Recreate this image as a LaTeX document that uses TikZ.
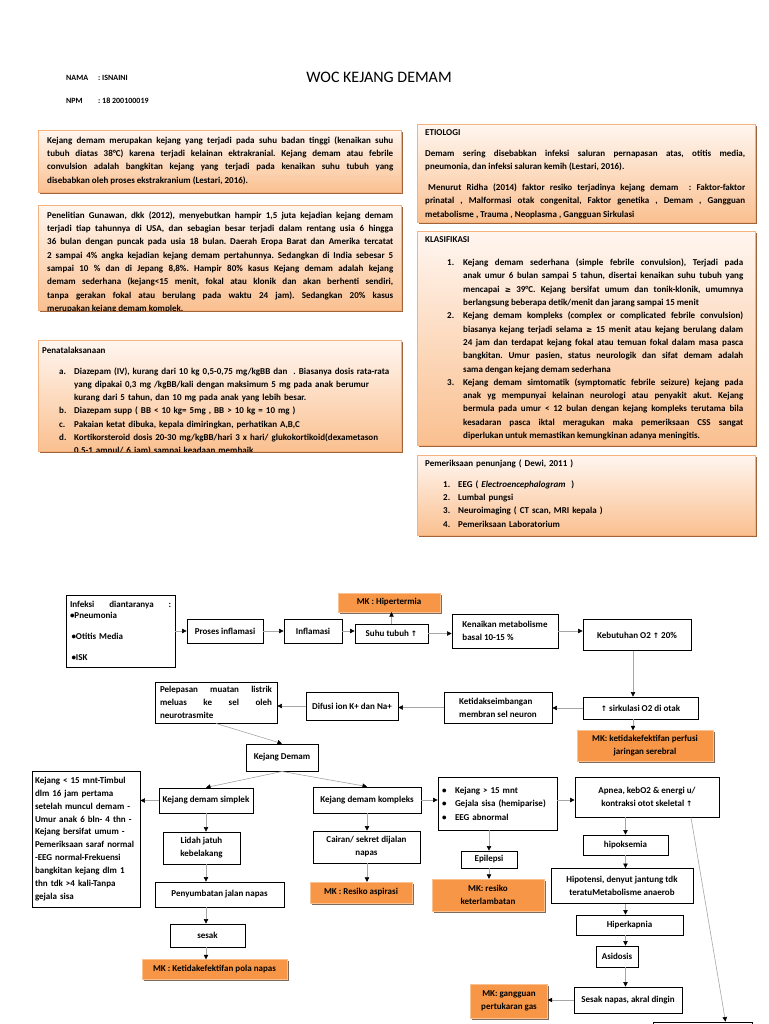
\documentclass[tikz,border=0pt]{standalone}
\usepackage{fontspec}
\setmainfont{Carlito}
\newfontfamily\symfont{DejaVu Sans}
\usetikzlibrary{arrows.meta, positioning, shadows}

\definecolor{mkorange}{HTML}{F79646}
\definecolor{mkshadow}{HTML}{7F6B5C}
\definecolor{peachtop}{HTML}{FFF6F0}
\definecolor{peachbottom}{HTML}{FAC090}
\definecolor{peachline}{HTML}{F6B27E}
\definecolor{peachshadow}{HTML}{A0643A}
\definecolor{linkgray}{HTML}{A6A6A6}

\tolerance=9999
\hbadness=10000
\frenchspacing
\newcommand{\txt}{\fontsize{9}{13.3}\selectfont\bfseries}
\newcommand{\numlbl}[2]{\noindent\llap{\makebox[#1][l]{#2}}}
\newcommand{\naik}{{\symfont\fontsize{7.5}{9}\selectfont ↑}}
\newcommand{\gesym}{{\symfont\fontsize{7.5}{9}\selectfont ≥}}

\tikzset{
    infobox/.style={rectangle, anchor=north west, draw=peachline, line width=0.5pt, top color=peachtop, bottom color=peachbottom, general shadow={fill=peachshadow, shadow xshift=1.6pt, shadow yshift=-1.6pt}, inner sep=0pt},
    infotext/.style={anchor=north west, inner sep=0pt, align=justify, font=\txt},
    box/.style={rectangle, draw=black, line width=0.9pt, fill=white, align=center, inner sep=2pt, font=\fontsize{9}{13}\selectfont\bfseries},
    mk/.style={rectangle, draw=mkorange!60!white, line width=0.4pt, fill=mkorange, general shadow={fill=mkshadow, shadow xshift=1.6pt, shadow yshift=-1.6pt}, align=center, inner sep=2pt, font=\fontsize{9}{13}\selectfont\bfseries},
    arrow/.style={draw=linkgray, line width=0.6pt, -{Triangle[length=4.5pt, width=4.5pt, color=black]}}
}

\begin{document}
\begin{tikzpicture}[x=1pt, y=-1pt]
    \fill[white] (0,0) rectangle (768,1024);
    \useasboundingbox (0,0) rectangle (768,1024);

    % Header
    \node[anchor=west, inner sep=0pt, font=\fontsize{8}{10}\selectfont\bfseries] (nama) at (66,78) {\makebox[32pt][l]{NAMA}: ISNAINI};
    \node[anchor=west, inner sep=0pt, font=\fontsize{8}{10}\selectfont\bfseries] (npm) at (66,101) {\makebox[32pt][l]{NPM}: 18 200100019};
    \node[font=\fontsize{16}{18}\selectfont] (judul) at (379,77) {WOC KEJANG DEMAM};

    % Left column: text boxes
    \node[infobox, minimum width=363pt, minimum height=62pt] (defbox) at (38,130) {};
    \node[infotext, text width=346pt] (deftext) at (47,136.5) {Kejang demam merupakan kejang yang terjadi pada suhu badan tinggi (kenaikan suhu\linebreak tubuh diatas 38°C) karena terjadi kelainan ektrakranial. Kejang demam atau febrile\linebreak convulsion adalah bangkitan kejang yang terjadi pada kenaikan suhu tubuh yang\linebreak disebabkan oleh proses ekstrakranium (Lestari, 2016).\par};

    \node[infobox, minimum width=363pt, minimum height=105pt] (epidbox) at (38,205) {};
    \begin{scope}
        \clip (epidbox.north west) rectangle (epidbox.south east);
        \node[infotext, text width=346pt] (epidtext) at (47,211.5) {Penelitian Gunawan, dkk (2012), menyebutkan hampir 1,5 juta kejadian kejang demam\linebreak terjadi tiap tahunnya di USA, dan sebagian besar terjadi dalam rentang usia 6 hingga\linebreak 36 bulan dengan puncak pada usia 18 bulan. Daerah Eropa Barat dan Amerika tercatat\linebreak 2 sampai 4\% angka kejadian kejang demam pertahunnya. Sedangkan di India sebesar 5\linebreak sampai 10 \% dan di Jepang 8,8\%. Hampir 80\% kasus Kejang demam adalah kejang\linebreak demam sederhana (kejang<15 menit, fokal atau klonik dan akan berhenti sendiri,\linebreak tanpa gerakan fokal atau berulang pada waktu 24 jam). Sedangkan 20\% kasus\linebreak merupakan kejang demam komplek.\par};
    \end{scope}

    \node[infobox, minimum width=363pt, minimum height=111pt] (penabox) at (38,340) {};
    \begin{scope}
        \clip (penabox.north west) rectangle (penabox.south east);
        \node[infotext, text width=357pt, align=left] (penatext) at (42,346.5) {Penatalaksanaan\par\vspace{7.7pt}
            \leftskip=32pt
            \numlbl{15pt}{a.}Diazepam (IV), kurang dari 10 kg 0,5-0,75 mg/kgBB dan\ \ . Biasanya dosis rata-rata\\ yang dipakai 0,3 mg /kgBB/kali dengan maksimum 5 mg pada anak berumur\\ kurang dari 5 tahun, dan 10 mg pada anak yang lebih besar.\par
            \numlbl{15pt}{b.}Diazepam supp ( BB < 10 kg= 5mg , BB > 10 kg = 10 mg )\par
            \numlbl{15pt}{c.}Pakaian ketat dibuka, kepala dimiringkan, perhatikan A,B,C\par
            \numlbl{15pt}{d.}Kortikorsteroid dosis 20-30 mg/kgBB/hari 3 x hari/ glukokortikoid(dexametason\\ 0,5-1 ampul/ 6 jam) sampai keadaan membaik\par};
    \end{scope}

    % Right column: text boxes
    \node[infobox, minimum width=338pt, minimum height=98pt] (etiobox) at (417,124) {};
    \node[infotext, text width=320pt] (etiotext) at (425,129.5) {ETIOLOGI\par\vspace{7.7pt}
        Demam sering disebabkan infeksi saluran pernapasan atas, otitis media,\linebreak pneumonia, dan infeksi saluran kemih (Lestari, 2016).\par\vspace{7.4pt}
        \hspace{3pt}Menurut Ridha (2014) faktor resiko terjadinya kejang demam\ \ : Faktor-faktor\linebreak prinatal , Malformasi otak congenital, Faktor genetika , Demam , Gangguan\linebreak metabolisme , Trauma , Neoplasma , Gangguan Sirkulasi\par};

    \node[infobox, minimum width=338pt, minimum height=214pt] (klasbox) at (417,231) {};
    \node[infotext, text width=318pt] (klastext) at (425,236.5) {KLASIFIKASI\par\vspace{9.7pt}
        \leftskip=38pt
        \numlbl{16pt}{1.}Kejang demam sederhana (simple febrile convulsion), Terjadi pada\linebreak anak umur 6 bulan sampai 5 tahun, disertai kenaikan suhu tubuh yang\linebreak mencapai \gesym{} 39°C. Kejang bersifat umum dan tonik-klonik, umumnya\linebreak berlangsung beberapa detik/menit dan jarang sampai 15 menit\par
        \numlbl{16pt}{2.}Kejang demam kompleks (complex or complicated febrile convulsion)\linebreak biasanya kejang terjadi selama \gesym{} 15 menit atau kejang berulang dalam\linebreak 24 jam dan terdapat kejang fokal atau temuan fokal dalam masa pasca\linebreak bangkitan. Umur pasien, status neurologik dan sifat demam adalah\linebreak sama dengan kejang demam sederhana\par
        \numlbl{16pt}{3.}Kejang demam simtomatik (symptomatic febrile seizure) kejang pada\linebreak anak yg mempunyai kelainan neurologi atau penyakit akut. Kejang\linebreak bermula pada umur < 12 bulan dengan kejang kompleks terutama bila\linebreak kesadaran pasca iktal meragukan maka pemeriksaan CSS sangat\linebreak diperlukan untuk memastikan kemungkinan adanya meningitis.\par};

    \node[infobox, minimum width=338pt, minimum height=80pt] (pembox) at (417,455) {};
    \node[infotext, text width=318pt, align=left] (pemtext) at (425,459.5) {Pemeriksaan penunjang ( Dewi, 2011 )\par\vspace{7.7pt}
        \leftskip=33pt
        \numlbl{15pt}{1.}EEG ( \textit{Electroencephalogram}\ \ )\par
        \numlbl{15pt}{2.}Lumbal pungsi\par
        \numlbl{15pt}{3.}Neuroimaging ( CT scan, MRI kepala )\par
        \numlbl{15pt}{4.}Pemeriksaan Laboratorium\par};

    % Flow: upper row
    \node[box, minimum width=109pt, minimum height=72pt, text width=101pt, align=left] (infeksi) at (120.5,631) {\hbox to 101pt{Infeksi\hfill diantaranya\hfill :}\\[-2pt]\textbullet Pneumonia\\[8pt]\hspace{1.5pt}\textbullet Otitis Media\\[8pt]\hspace{1.5pt}\textbullet ISK};
    \node[box, minimum width=76pt, minimum height=24pt] (proses) at (225,631) {Proses inflamasi};
    \node[box, minimum width=58pt, minimum height=24pt] (inflamasi) at (313,631) {Inflamasi};
    \node[box, minimum width=73pt, minimum height=19pt] (suhu) at (391.5,633.5) {Suhu tubuh \naik};
    \node[mk, minimum width=102pt, minimum height=19pt] (mkhiper) at (389,602.5) {MK : Hipertermia};
    \node[box, minimum width=106pt, minimum height=34pt, align=left] (kenaikan) at (505,631) {Kenaikan metabolisme\\basal 10-15 \%};
    \node[box, minimum width=108pt, minimum height=31pt] (kebutuhan) at (637,635) {Kebutuhan O2 \naik{} 20\%};
    \node[box, minimum width=115pt, minimum height=22pt] (sirkulasi) at (640.5,708) {\naik{} sirkulasi O2 di otak};
    \node[mk, minimum width=136pt, minimum height=31pt] (mkperfusi) at (645,746) {MK: ketidakefektifan perfusi\\jaringan serebral};
    \node[box, minimum width=108pt, minimum height=31pt, align=left] (ketidak) at (498,707.5) {Ketidakseimbangan\\membran sel neuron};
    \node[box, minimum width=92pt, minimum height=28pt] (difusi) at (352,706) {Difusi ion K+ dan Na+};
    \node[box, minimum width=122pt, minimum height=41pt, text width=112pt, align=justify] (pelepasan) at (216,702.5) {Pelepasan muatan listrik\linebreak meluas ke sel oleh\linebreak neurotrasmite};

    % Flow: lower part
    \node[box, minimum width=72pt, minimum height=27pt] (kd) at (282,757.5) {Kejang Demam};
    \node[box, minimum width=94pt, minimum height=25pt] (simplek) at (206,800.5) {Kejang demam simplek};
    \node[box, minimum width=108pt, minimum height=26pt] (kompleks) at (367,800) {Kejang demam kompleks};
    \node[box, minimum width=108pt, minimum height=136pt, text width=102pt, align=left, font=\fontsize{9}{12.9}\selectfont\bfseries] (ciri) at (86,839) {Kejang < 15 mnt-Timbul\\dlm 16 jam pertama\\setelah muncul demam -\\Umur anak 6 bln- 4 thn -\\Kejang bersifat umum -\\Pemeriksaan saraf normal\\-EEG normal-Frekuensi\\bangkitan kejang dlm 1\\thn tdk >4 kali-Tanpa\\gejala sisa};
    \node[box, minimum width=77pt, minimum height=32pt] (lidah) at (201.5,848) {Lidah jatuh\\kebelakang};
    \node[box, minimum width=129pt, minimum height=25pt] (sumbat) at (219.5,894.5) {Penyumbatan jalan napas};
    \node[box, minimum width=75pt, minimum height=23pt] (sesak) at (207.5,935.5) {sesak};
    \node[mk, minimum width=145pt, minimum height=20pt] (mkpola) at (214.5,969.5) {MK : Ketidakefektifan pola napas};
    \node[box, minimum width=107pt, minimum height=32pt] (cairan) at (366.5,847) {Cairan/ sekret dijalan\\napas};
    \node[mk, minimum width=102pt, minimum height=21pt] (mkaspirasi) at (361,892.5) {MK : Resiko aspirasi};
    \node[box, minimum width=119pt, minimum height=53pt, text width=111pt, align=left, font=\fontsize{9}{13.5}\selectfont\bfseries] (gejala) at (497.5,803.5) {\makebox[13pt][l]{\textbullet}Kejang > 15 mnt\\\makebox[13pt][l]{\textbullet}Gejala sisa (hemiparise)\\\makebox[13pt][l]{\textbullet}EEG abnormal};
    \node[box, minimum width=56pt, minimum height=17pt] (epilepsi) at (489,859.5) {Epilepsi};
    \node[mk, minimum width=112pt, minimum height=32pt] (mkterlambat) at (488,895) {MK: resiko\\keterlambatan};
    \node[box, minimum width=144pt, minimum height=40pt] (apnea) at (647,797) {Apnea, kebO2 \& energi u/\\kontraksi otot skeletal \naik};
    \node[box, minimum width=85pt, minimum height=20pt] (hipoksemia) at (625.5,845) {hipoksemia};
    \node[box, minimum width=142pt, minimum height=35pt] (hipotensi) at (622,886) {Hipotensi, denyut jantung tdk\\teratuMetabolisme anaerob};
    \node[box, minimum width=107pt, minimum height=20pt] (hiperkapnia) at (629.5,925) {Hiperkapnia};
    \node[box, minimum width=42pt, minimum height=21pt] (asidosis) at (617,956.5) {Asidosis};
    \node[box, minimum width=108pt, minimum height=26pt] (sesaknapas) at (628,1000) {Sesak napas, akral dingin};
    \node[mk, minimum width=77pt, minimum height=34pt] (mkgas) at (509,1001) {MK: gangguan\\pertukaran gas};
    \node[box, minimum width=99pt, minimum height=30pt] (bawah) at (702.5,1037) {};

    % Connectors
    \draw[arrow] (infeksi) -- (proses);
    \draw[arrow] (proses) -- (inflamasi);
    \draw[arrow] (inflamasi.east) -- (inflamasi.east -| suhu.west);
    \draw[arrow] (suhu.north) -- (suhu.north |- mkhiper.south);
    \draw[arrow] (suhu.east) -- (suhu.east -| kenaikan.west);
    \draw[arrow] (kenaikan.east) -- (kenaikan.east -| kebutuhan.west);
    \draw[arrow] ([xshift=-4pt]kebutuhan.south) -- ([xshift=-4pt]kebutuhan.south |- sirkulasi.north);
    \draw[arrow] ([xshift=-4pt]kebutuhan.south |- sirkulasi.south) -- ([xshift=-4pt]kebutuhan.south |- mkperfusi.north);
    \draw[arrow] (sirkulasi.west) -- (sirkulasi.west -| ketidak.east);
    \draw[arrow] (ketidak.west) -- (ketidak.west -| difusi.east);
    \draw[arrow] (difusi.west) -- (difusi.west -| pelepasan.east);
    \draw[arrow] (pelepasan.south) -- (kd.north);
    \draw[arrow] (kd.south) -- (simplek.north);
    \draw[arrow] (kd.south) -- (kompleks.north);
    \draw[arrow] (simplek.west) -- (simplek.west -| ciri.east);
    \draw[arrow] (simplek.south) -- (simplek.south |- lidah.north);
    \draw[arrow] (simplek.south |- lidah.south) -- (simplek.south |- sumbat.north);
    \draw[arrow] (simplek.south |- sumbat.south) -- (simplek.south |- sesak.north);
    \draw[arrow] (simplek.south |- sesak.south) -- (simplek.south |- mkpola.north);
    \draw[arrow] (kompleks.south) -- (kompleks.south |- cairan.north);
    \draw[arrow] (kompleks.south |- cairan.south) -- (kompleks.south |- mkaspirasi.north);
    \draw[arrow] (kompleks.east) -- (kompleks.east -| gejala.west);
    \draw[arrow] (kompleks.east -| gejala.east) -- (kompleks.east -| apnea.west);
    \draw[arrow] (epilepsi.north |- gejala.south) -- (epilepsi.north);
    \draw[arrow] (epilepsi.south) -- (epilepsi.south |- mkterlambat.north);
    \draw[arrow] (hipoksemia.north |- apnea.south) -- (hipoksemia.north);
    \draw[arrow] (hipoksemia.south) -- (hipoksemia.south |- hipotensi.north);
    \draw[arrow] (hipoksemia.south |- hipotensi.south) -- (hipoksemia.south |- hiperkapnia.north);
    \draw[arrow] (hipoksemia.south |- hiperkapnia.south) -- (hipoksemia.south |- asidosis.north);
    \draw[arrow] (hipoksemia.south |- asidosis.south) -- (hipoksemia.south |- sesaknapas.north);
    \draw[arrow] (sesaknapas.west) -- (sesaknapas.west -| mkgas.east);
    \draw[arrow] ([xshift=44pt]apnea.south) -- ([xshift=23pt]bawah.north);

\end{tikzpicture}
\end{document}
